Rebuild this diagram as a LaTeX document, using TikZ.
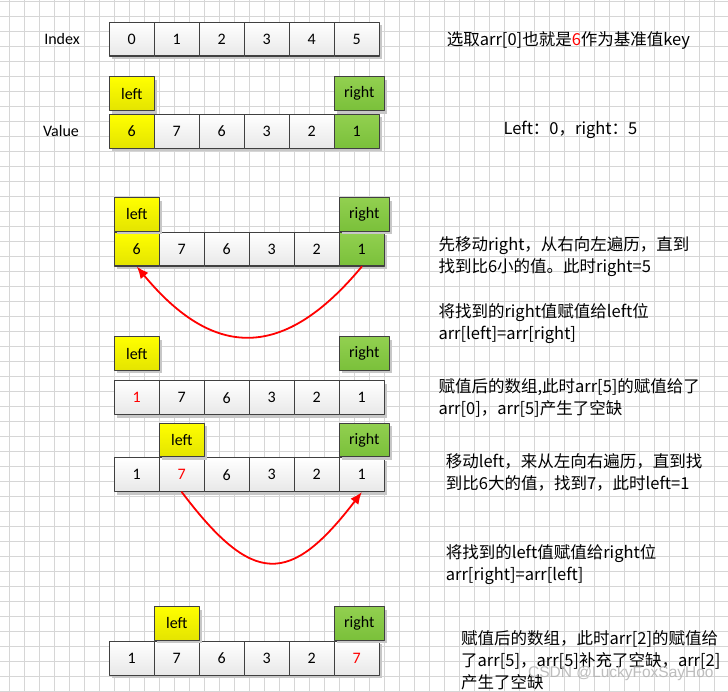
\documentclass[tikz,border=0pt]{standalone}
\usepackage{fontspec}
\setmainfont{Carlito}
\newfontfamily\cjk{Noto Sans CJK SC}
\newfontfamily\markfont{Liberation Sans}
\usetikzlibrary{arrows.meta}
\usetikzlibrary{shadows}
\definecolor{gridgray}{RGB}{214,214,214}
\definecolor{boxline}{RGB}{64,64,64}
\definecolor{cellgray}{RGB}{232,232,232}
\definecolor{keyyellow}{RGB}{255,255,0}
\definecolor{keyyellowdark}{RGB}{228,228,0}
\definecolor{rightgreen}{RGB}{146,208,80}
\definecolor{rightgreendark}{RGB}{122,192,58}
\tikzset{
  gridline/.style={color=gridgray, line width=0.8pt},
  cell/.style={draw=boxline, line width=1.1pt, minimum width=45pt, minimum height=33.7pt,
    inner sep=0pt, top color=white, bottom color=cellgray,
    drop shadow={shadow xshift=3pt, shadow yshift=-3pt, fill=black!22, opacity=1},
    font=\fontsize{16}{19}\selectfont},
  ycell/.style={cell, top color=keyyellow, bottom color=keyyellowdark},
  gcell/.style={cell, top color=rightgreen, bottom color=rightgreendark},
  lbox/.style={ycell},
  rbox/.style={gcell, minimum width=50pt},
  rowlabel/.style={font=\fontsize{16}{19}\selectfont},
  note/.style={anchor=west, align=left, inner sep=0pt, font=\cjk\fontsize{16.5}{22}\selectfont},
  moveline/.style={red, line width=1.8pt, -{Latex[length=12pt, width=10pt]}}
}
\begin{document}
\begin{tikzpicture}[line cap=round,line join=round,x=1pt,y=-1pt]
\useasboundingbox (0,0) rectangle (728,692);
\fill[white] (0,0) rectangle (728,692);
\foreach \gx in {9,24,...,724} \draw[gridline] (\gx,0) -- (\gx,692);
\foreach \gy in {1,16,...,691} \draw[gridline] (0,\gy) -- (728,\gy);

\node[rowlabel] (idxlabel) at (62,39.2) {Index};
\foreach \v [count=\k from 0] in {0,1,2,3,4,5}
  \node[cell] (idx\k) at ({131.8+45*\k},39.2) {\v};

\node[rowlabel] (vallabel) at (61,131.3) {Value};
\foreach \v/\s [count=\k from 0] in {6/ycell,7/cell,6/cell,3/cell,2/cell,1/gcell}
  \node[\s] (b\k) at ({131.8+45*\k},131.3) {\v};
\node[lbox, anchor=south west] (bl) at ([yshift=2.7pt]b0.north west) {left};
\node[rbox, anchor=south west] (br) at ([yshift=2.7pt]b5.north west) {right};

\foreach \v/\s [count=\k from 0] in {6/ycell,7/cell,6/cell,3/cell,2/cell,1/gcell}
  \node[\s] (c\k) at ({136.8+45*\k},249.2) {\v};
\node[lbox, anchor=south west] (cl) at (c0.north west) {left};
\node[rbox, anchor=south west] (cr) at (c5.north west) {right};
\draw[moveline] (c5.south) .. controls +(-78,94) and +(77,93) .. (c0.south);

\foreach \v [count=\k from 0] in {\textcolor{red}{1},7,6,3,2,1}
  \node[cell] (d\k) at ({136.8+45*\k},397.7) {\v};
\node[lbox, anchor=south west] (dl) at ([yshift=9.3pt]d0.north west) {left};
\node[rbox, anchor=south west] (dr) at ([yshift=9.3pt]d5.north west) {right};

\foreach \v [count=\k from 0] in {1,\textcolor{red}{7},6,3,2,1}
  \node[cell] (e\k) at ({136.8+45*\k},474.7) {\v};
\node[lbox, anchor=south west] (el) at (e1.north west) {left};
\node[rbox, anchor=south west] (er) at (e5.north west) {right};
\draw[moveline] (e1.south) .. controls +(71,94) and +(-72,94) .. (e5.south);

\foreach \v [count=\k from 0] in {1,7,6,3,2,\textcolor{red}{7}}
  \node[cell] (f\k) at ({131.8+45*\k},658.2) {\v};
\node[lbox, anchor=south west] (fl) at (f1.north west) {left};
\node[rbox, anchor=south west] (fr) at (f5.north west) {right};

\node[note] (t1) at (446.7,40) {选取arr[0]也就是\textcolor{red}{6}作为基准值key};
\node[note] (t2) at (503.3,130) {Left：0，right：5};
\node[note] (t3) at (438.3,256.7) {先移动right，从右向左遍历，直到\\找到比6小的值。此时right=5};
\node[note] (t4) at (438.3,323.8) {将找到的right值赋值给left位\\arr[left]=arr[right]};
\node[note] (t5) at (438.3,397.5) {赋值后的数组,此时arr[5]的赋值给了\\arr[0]，arr[5]产生了空缺};
\node[note] (t6) at (445.7,472.8) {移动left，来从左向右遍历，直到找\\到比6大的值，找到7，此时left=1};
\node[note] (t7) at (445.7,564.2) {将找到的left值赋值给right位\\arr[right]=arr[left]};
\node[note] (t8) at (461,660) {赋值后的数组，此时arr[2]的赋值给\\了arr[5]，arr[5]补充了空缺，arr[2]\\产生了空缺};
\node[anchor=west, inner sep=0pt, font=\markfont\fontsize{15.5}{18}\selectfont, text=black!30, opacity=.85] (mark) at (528,673) {CSDN @LuckyFoxSayHoo};
\end{tikzpicture}
\end{document}
